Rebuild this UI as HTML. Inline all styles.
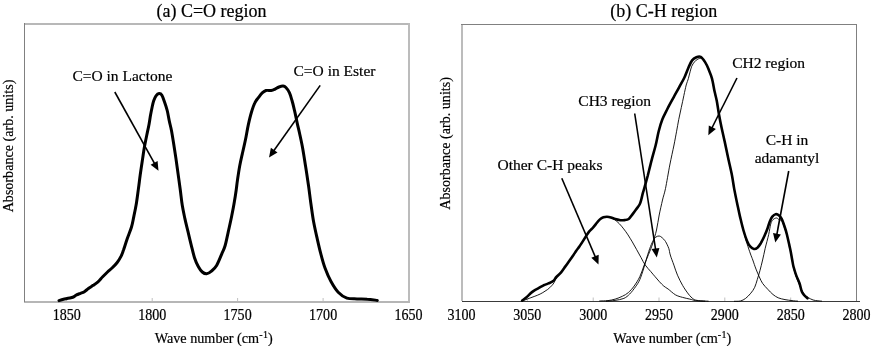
<!DOCTYPE html>
<html><head><meta charset="utf-8"><style>
html,body{margin:0;padding:0;background:#fff;width:871px;height:346px;overflow:hidden}
svg{display:block}
</style></head><body>
<svg width="871" height="346" viewBox="0 0 871 346">
<style>
text{font-family:"Liberation Serif","Times New Roman",serif;fill:#000;stroke:#000;stroke-width:0.2px}
.t{font-size:14px}
.n{font-size:14.5px}
.a{font-size:15.5px}
.h{font-size:18px}
</style>
<rect width="871" height="346" fill="#fff"/>
<!-- left chart frame -->
<rect x="24" y="23" width="386" height="2" fill="#b8b8b8"/>
<rect x="408" y="23" width="2" height="280" fill="#bcbcbc"/>
<rect x="24" y="301" width="386" height="2" fill="#b6b6b6"/>
<rect x="24" y="23" width="1" height="279" fill="#808080"/>
<rect x="66.2" y="298" width="1" height="3" fill="#c0c0c0"/><rect x="151.7" y="298" width="1" height="3" fill="#c0c0c0"/><rect x="237.1" y="298" width="1" height="3" fill="#c0c0c0"/><rect x="322.6" y="298" width="1" height="3" fill="#c0c0c0"/>
<!-- right chart frame -->
<rect x="461" y="24" width="2" height="277" fill="#bcbcbc"/>
<rect x="461" y="24" width="396" height="1" fill="#808080"/>
<rect x="856" y="24" width="1" height="277" fill="#808080"/>
<rect x="462" y="301" width="398" height="1" fill="#3a3a3a"/>
<rect x="526.8" y="297.5" width="1" height="3.5" fill="#c0c0c0"/><rect x="592.7" y="297.5" width="1" height="3.5" fill="#c0c0c0"/><rect x="658.5" y="297.5" width="1" height="3.5" fill="#c0c0c0"/><rect x="724.3" y="297.5" width="1" height="3.5" fill="#c0c0c0"/><rect x="790.2" y="297.5" width="1" height="3.5" fill="#c0c0c0"/>
<!-- curves -->
<path d="M59.0 300.6 C59.9 300.3 62.5 299.5 64.5 299.0 C66.5 298.5 69.3 298.1 70.9 297.7 C72.5 297.3 73.2 297.1 74.1 296.6 C75.0 296.1 75.4 295.4 76.5 294.9 C77.6 294.3 79.2 293.8 80.5 293.3 C81.8 292.8 83.1 292.5 84.4 291.7 C85.7 290.9 86.9 289.6 88.4 288.5 C89.9 287.4 91.6 286.4 93.2 285.3 C94.8 284.2 96.4 283.2 98.0 281.8 C99.6 280.4 101.1 278.3 102.7 276.7 C104.3 275.1 105.9 273.5 107.5 272.0 C109.1 270.5 110.7 269.4 112.3 267.8 C113.9 266.2 115.5 264.6 117.0 262.7 C118.5 260.8 119.9 258.5 121.0 256.4 C122.1 254.2 122.5 252.8 123.6 249.8 C124.6 246.8 126.0 242.4 127.3 238.6 C128.6 234.8 130.4 230.7 131.5 227.0 C132.6 223.3 133.0 220.2 133.8 216.6 C134.6 212.9 135.3 209.7 136.1 205.1 C136.9 200.5 137.7 193.9 138.4 188.9 C139.1 183.9 139.5 180.1 140.2 175.0 C140.9 169.9 142.0 162.8 142.7 158.1 C143.4 153.4 143.8 150.4 144.5 146.6 C145.2 142.8 146.0 138.8 146.8 135.0 C147.6 131.2 148.5 127.3 149.1 123.9 C149.7 120.5 150.1 117.4 150.6 114.7 C151.1 112.0 151.5 110.0 152.0 107.7 C152.5 105.4 153.0 102.8 153.7 100.8 C154.4 98.8 155.1 97.0 156.0 95.8 C156.9 94.6 158.1 93.7 159.1 93.6 C160.1 93.5 161.0 93.8 161.9 95.3 C162.8 96.8 163.8 100.0 164.7 102.5 C165.6 105.0 166.4 107.4 167.2 110.5 C168.0 113.6 168.6 117.5 169.3 121.0 C170.0 124.5 170.7 126.4 171.6 131.2 C172.5 136.0 173.6 143.5 174.6 149.7 C175.6 155.9 176.4 161.5 177.3 168.2 C178.2 174.9 179.5 183.8 180.3 190.0 C181.1 196.2 181.5 200.8 182.3 205.6 C183.1 210.4 184.0 214.3 184.9 218.6 C185.8 222.9 187.0 227.3 188.0 231.6 C189.0 235.9 190.0 240.2 191.1 244.6 C192.2 248.9 193.3 254.0 194.5 257.7 C195.7 261.4 197.1 264.4 198.4 266.8 C199.7 269.2 200.9 270.8 202.3 272.0 C203.7 273.2 205.2 273.9 206.7 273.8 C208.2 273.7 209.8 272.6 211.4 271.2 C213.1 269.8 214.9 268.4 216.6 265.5 C218.3 262.6 220.4 257.1 221.8 253.8 C223.2 250.6 223.9 249.7 225.0 246.0 C226.1 242.3 227.2 236.6 228.3 231.6 C229.4 226.6 230.7 221.0 231.7 216.0 C232.7 211.0 233.7 205.8 234.4 201.5 C235.2 197.2 235.7 193.6 236.2 190.0 C236.7 186.4 236.9 183.9 237.5 179.9 C238.1 175.9 238.9 170.3 239.7 166.0 C240.5 161.7 241.3 158.3 242.3 153.9 C243.3 149.5 244.5 144.3 245.5 139.5 C246.5 134.7 247.3 129.3 248.3 124.8 C249.3 120.3 250.2 116.3 251.3 112.7 C252.4 109.1 253.5 105.6 254.7 103.1 C255.8 100.6 256.9 99.6 258.2 97.9 C259.5 96.2 261.2 93.9 262.5 92.7 C263.8 91.5 264.6 90.9 266.0 90.5 C267.4 90.1 269.8 90.7 271.2 90.5 C272.6 90.3 273.4 89.9 274.7 89.3 C276.0 88.7 277.6 87.5 279.0 87.0 C280.4 86.5 281.9 86.0 283.0 86.1 C284.1 86.2 284.8 86.4 285.9 87.5 C287.0 88.6 288.4 90.5 289.4 92.7 C290.4 94.9 291.1 97.5 292.0 100.5 C292.9 103.5 293.7 107.1 294.6 110.9 C295.5 114.7 296.4 119.4 297.2 123.1 C298.0 126.8 298.6 128.8 299.5 133.0 C300.4 137.2 301.7 142.8 302.7 148.5 C303.7 154.2 304.7 160.8 305.7 167.0 C306.7 173.2 307.6 179.5 308.5 185.5 C309.4 191.5 309.9 196.9 310.8 203.0 C311.7 209.1 312.6 216.4 313.7 222.3 C314.8 228.2 315.9 232.9 317.1 238.2 C318.3 243.5 319.5 249.0 320.9 254.1 C322.2 259.2 323.5 264.0 325.2 268.6 C326.9 273.2 328.8 277.7 331.0 281.6 C333.2 285.6 335.6 289.6 338.2 292.3 C340.8 295.1 343.8 297.0 346.9 298.1 C350.0 299.2 353.6 298.7 357.0 298.9 C360.4 299.1 363.7 298.9 367.1 299.2 C370.5 299.4 375.6 300.2 377.3 300.4" fill="none" stroke="#000" stroke-width="3" stroke-linejoin="round" stroke-linecap="round"/>
<g fill="none" stroke="#000" stroke-width="0.9">
<path d="M522.2 300.6 C522.6 300.5 523.0 300.6 524.5 300.1 C526.0 299.6 528.8 298.5 530.9 297.7 C533.0 296.9 535.3 296.1 537.3 295.3 C539.3 294.5 541.1 293.6 542.8 292.6 C544.5 291.6 546.1 290.6 547.6 289.5 C549.1 288.4 550.5 287.0 551.6 285.8 C552.7 284.6 553.4 283.8 554.2 282.4 C555.0 281.0 555.5 279.1 556.6 277.5 C557.8 275.9 559.6 274.3 561.1 272.5 C562.6 270.7 564.2 268.2 565.4 266.6 C566.6 265.0 567.1 264.3 568.2 262.7 C569.3 261.1 570.8 259.1 572.1 257.2 C573.4 255.3 574.9 252.9 576.1 251.2 C577.3 249.4 578.3 248.3 579.4 246.7 C580.5 245.1 581.4 243.7 582.6 241.8 C583.8 240.0 585.4 237.3 586.5 235.6 C587.6 233.8 588.4 232.6 589.5 231.3 C590.6 230.0 591.8 229.1 593.0 227.8 C594.2 226.5 595.4 224.9 596.5 223.5 C597.6 222.1 598.8 220.6 599.9 219.6 C601.0 218.6 602.2 217.9 603.4 217.5 C604.6 217.1 605.6 217.0 606.9 217.0 C608.1 217.0 609.6 217.3 610.9 217.7 C612.2 218.1 613.2 218.6 614.6 219.6 C616.0 220.6 617.8 222.1 619.3 223.7 C620.8 225.2 622.2 227.0 623.7 228.9 C625.2 230.8 626.6 232.7 628.0 234.9 C629.4 237.1 630.8 239.4 632.3 241.9 C633.8 244.4 635.2 247.1 636.7 249.7 C638.2 252.3 639.6 254.9 641.0 257.5 C642.4 260.1 643.7 262.8 645.3 265.1 C646.9 267.5 649.2 269.7 650.8 271.6 C652.4 273.5 653.6 275.0 655.1 276.7 C656.6 278.4 658.0 280.2 659.5 281.8 C661.0 283.4 662.4 284.9 663.8 286.1 C665.2 287.3 666.2 287.6 668.1 289.0 C670.0 290.4 673.0 293.4 675.4 294.8 C677.8 296.2 680.2 296.7 682.6 297.4 C685.0 298.1 687.6 298.6 689.8 299.1 C692.0 299.6 693.1 300.2 695.6 300.6 C698.1 301.0 703.4 301.1 705.0 301.2"/>
<path d="M606.0 301.2 C607.5 301.1 612.0 300.9 615.0 300.4 C618.0 299.9 621.4 299.5 623.9 298.4 C626.4 297.3 627.8 295.9 629.7 294.0 C631.6 292.1 633.8 289.2 635.5 286.8 C637.2 284.4 638.5 282.6 639.8 279.6 C641.1 276.6 642.3 272.8 643.5 269.0 C644.7 265.2 645.8 260.8 647.0 257.0 C648.2 253.2 649.4 249.3 650.5 246.5 C651.6 243.7 652.6 241.6 653.5 240.0 C654.4 238.4 655.0 237.7 656.0 237.0 C657.0 236.3 658.2 235.9 659.2 236.0 C660.2 236.1 661.0 236.7 662.0 237.6 C663.0 238.5 664.4 239.7 665.5 241.5 C666.6 243.3 668.0 246.2 668.8 248.5 C669.6 250.8 669.4 252.2 670.3 255.0 C671.1 257.8 672.7 261.7 673.9 265.1 C675.1 268.5 676.0 271.8 677.5 275.2 C679.0 278.6 680.8 282.3 682.6 285.4 C684.4 288.5 686.6 291.7 688.4 294.0 C690.2 296.3 691.8 298.0 693.5 299.1 C695.2 300.2 696.0 300.2 698.5 300.6 C701.0 301.0 706.9 301.1 708.6 301.2"/>
<path d="M599.3 301.0 C600.8 300.9 605.4 300.9 608.0 300.6 C610.6 300.3 612.8 299.8 615.2 299.1 C617.6 298.4 620.3 297.3 622.5 296.2 C624.7 295.1 626.4 294.3 628.3 292.6 C630.2 290.9 632.2 288.8 634.1 286.1 C636.0 283.5 638.1 280.2 639.8 276.7 C641.5 273.2 642.8 268.8 644.2 265.1 C645.7 261.4 647.1 258.0 648.5 254.5 C649.9 251.0 651.2 248.1 652.5 244.0 C653.8 239.9 655.4 234.8 656.5 230.0 C657.6 225.2 658.2 220.0 659.2 215.0 C660.2 210.0 661.5 204.4 662.5 200.0 C663.5 195.6 664.3 194.3 665.5 188.5 C666.7 182.7 668.4 172.2 669.8 165.0 C671.2 157.8 672.9 150.5 674.0 145.0 C675.1 139.5 675.7 136.0 676.5 131.8 C677.3 127.6 677.9 123.8 678.7 119.7 C679.5 115.7 680.4 111.5 681.3 107.5 C682.2 103.5 683.1 99.2 683.9 95.4 C684.7 91.7 685.5 87.8 686.2 85.0 C687.0 82.2 687.8 80.6 688.4 78.4 C689.0 76.2 689.5 73.8 690.1 71.8 C690.7 69.8 691.0 68.0 691.7 66.3 C692.4 64.6 693.5 63.1 694.5 61.9 C695.5 60.7 696.8 59.5 698.0 59.0 C699.2 58.5 700.3 58.0 701.5 58.6 C702.7 59.2 703.9 60.8 705.1 62.6 C706.3 64.4 707.4 66.8 708.5 69.6 C709.6 72.3 711.0 75.3 712.0 79.1 C713.0 82.8 713.8 88.4 714.6 92.1 C715.4 95.8 716.1 97.8 716.8 101.5 C717.5 105.2 718.1 110.0 718.9 114.4 C719.7 118.9 720.6 123.6 721.6 128.2 C722.6 132.8 723.6 137.1 724.7 142.1 C725.8 147.1 726.9 152.7 728.1 158.3 C729.3 163.9 730.9 170.3 731.9 175.5 C732.9 180.7 733.4 184.8 734.2 189.4 C735.1 194.0 736.0 198.6 737.0 203.2 C738.0 207.8 738.9 212.5 740.0 217.1 C741.1 221.7 742.3 226.6 743.5 231.0 C744.7 235.4 745.8 239.7 747.0 243.5 C748.2 247.3 749.5 251.2 750.5 254.0 C751.5 256.8 751.9 257.5 752.8 260.0 C753.7 262.5 754.9 266.3 756.0 269.1 C757.1 271.9 758.2 274.5 759.3 276.9 C760.4 279.3 761.2 281.3 762.6 283.4 C764.0 285.5 766.1 287.4 767.8 289.3 C769.5 291.2 771.3 293.1 773.0 294.5 C774.7 295.9 776.2 296.9 778.2 297.8 C780.2 298.7 782.7 299.1 785.0 299.6 C787.3 300.1 789.8 300.3 792.0 300.6 C794.2 300.9 797.0 301.1 798.0 301.2"/>
<path d="M734.0 301.3 C735.1 301.2 738.5 301.5 740.4 301.0 C742.3 300.5 743.9 299.7 745.6 298.4 C747.3 297.1 749.3 295.0 750.8 293.2 C752.3 291.4 753.6 289.6 754.7 287.3 C755.8 285.0 756.4 282.3 757.3 279.5 C758.2 276.7 759.1 273.6 760.0 270.4 C760.9 267.1 761.7 263.7 762.6 260.0 C763.5 256.3 764.2 252.6 765.2 248.3 C766.2 244.1 767.8 238.5 768.7 234.5 C769.6 230.5 770.0 226.6 770.7 224.1 C771.4 221.6 772.0 220.7 773.0 219.7 C774.0 218.7 775.5 218.0 776.5 218.0 C777.5 218.0 778.2 219.2 779.1 219.7 C780.0 220.2 781.0 219.6 781.9 221.0 C782.8 222.4 783.7 225.7 784.5 228.0 C785.3 230.3 786.1 232.1 786.9 235.0 C787.7 237.9 788.6 242.3 789.3 245.2 C789.9 248.1 790.3 249.9 790.8 252.3 C791.3 254.7 791.6 257.1 792.1 259.8 C792.6 262.5 792.9 265.4 793.6 268.3 C794.3 271.2 795.4 274.5 796.4 277.3 C797.4 280.1 798.6 282.8 799.6 285.2 C800.6 287.6 801.5 289.8 802.5 291.5 C803.5 293.2 804.5 294.5 805.5 295.5 C806.5 296.5 807.0 296.9 808.3 297.6 C809.6 298.4 811.5 299.5 813.1 300.0 C814.7 300.5 816.4 300.6 817.9 300.8 C819.4 301.0 821.3 301.1 822.0 301.2"/>
</g>
<path d="M522.2 300.6 C523.0 300.0 525.5 298.2 526.9 296.9 C528.3 295.6 529.7 294.1 530.9 293.0 C532.1 291.9 532.8 291.5 534.1 290.6 C535.4 289.8 537.3 288.8 538.9 287.9 C540.5 287.0 542.0 286.1 543.6 285.3 C545.2 284.6 546.8 284.1 548.4 283.4 C550.0 282.7 551.9 282.1 553.2 281.0 C554.5 279.9 555.1 278.4 556.4 277.0 C557.7 275.6 559.6 274.1 561.1 272.3 C562.6 270.5 564.2 268.0 565.4 266.4 C566.6 264.8 567.1 264.1 568.2 262.5 C569.3 260.9 570.8 258.9 572.1 257.0 C573.4 255.1 574.9 252.8 576.1 251.0 C577.3 249.2 578.3 248.1 579.4 246.5 C580.5 244.9 581.4 243.4 582.6 241.6 C583.8 239.8 585.4 237.2 586.5 235.4 C587.6 233.7 588.4 232.4 589.5 231.1 C590.6 229.8 591.8 228.9 593.0 227.6 C594.2 226.3 595.4 224.7 596.5 223.3 C597.6 221.9 598.8 220.4 599.9 219.4 C601.0 218.4 602.2 217.7 603.4 217.3 C604.6 216.9 605.6 216.8 606.9 216.8 C608.1 216.8 609.5 217.0 610.9 217.4 C612.3 217.8 613.7 218.6 615.3 219.1 C616.9 219.6 619.0 220.0 620.5 220.2 C622.0 220.4 623.0 220.3 624.4 220.1 C625.8 219.9 627.4 219.9 628.7 219.0 C630.0 218.1 631.1 216.2 632.3 214.6 C633.5 213.0 634.8 211.3 636.0 209.6 C637.2 207.9 638.7 206.2 639.6 204.5 C640.5 202.8 640.8 201.4 641.3 199.5 C641.8 197.6 642.3 195.1 642.9 192.9 C643.5 190.7 644.0 189.3 644.8 186.4 C645.6 183.5 646.6 179.9 647.8 175.5 C648.9 171.1 650.4 164.8 651.7 159.8 C653.0 154.8 654.4 150.3 655.6 145.5 C656.8 140.7 657.6 135.5 658.7 131.2 C659.8 126.9 660.8 123.3 662.3 119.5 C663.8 115.7 665.7 112.3 667.6 108.5 C669.5 104.7 672.0 100.3 673.9 96.8 C675.8 93.3 677.4 90.5 679.1 87.3 C680.8 84.1 682.7 81.0 684.3 77.7 C685.9 74.4 687.3 70.2 688.6 67.3 C689.9 64.4 690.8 62.1 692.1 60.4 C693.4 58.7 695.0 57.9 696.4 57.3 C697.8 56.7 699.2 56.1 700.7 56.9 C702.2 57.7 703.8 60.1 705.1 62.1 C706.4 64.1 707.4 66.3 708.5 69.1 C709.6 71.8 711.0 74.8 712.0 78.6 C713.0 82.3 713.8 87.9 714.6 91.6 C715.4 95.3 716.1 97.3 716.8 101.0 C717.5 104.7 718.1 109.5 718.9 113.9 C719.7 118.4 720.6 123.1 721.6 127.7 C722.6 132.3 723.6 136.6 724.7 141.6 C725.8 146.6 726.9 152.2 728.1 157.8 C729.3 163.4 730.9 169.8 731.9 175.0 C732.9 180.2 733.4 184.3 734.2 188.9 C735.1 193.5 736.0 198.1 737.0 202.7 C738.0 207.3 738.9 212.0 740.0 216.6 C741.1 221.2 742.3 226.4 743.5 230.5 C744.7 234.6 745.9 238.2 747.0 240.9 C748.1 243.6 749.2 245.3 750.4 246.7 C751.5 248.0 752.7 248.8 753.9 249.0 C755.1 249.2 756.2 248.8 757.4 247.8 C758.5 246.8 759.6 245.1 760.8 243.2 C761.9 241.3 763.2 238.8 764.3 236.3 C765.4 233.8 766.7 230.7 767.6 228.2 C768.5 225.7 769.0 223.4 769.8 221.5 C770.6 219.6 771.3 217.8 772.3 216.6 C773.3 215.4 774.5 214.4 775.6 214.2 C776.7 214.0 778.1 214.6 779.1 215.4 C780.1 216.2 780.8 217.2 781.7 218.9 C782.6 220.6 783.4 223.2 784.3 225.8 C785.2 228.4 786.1 231.3 786.9 234.5 C787.7 237.7 788.6 242.0 789.3 244.9 C789.9 247.8 790.3 249.4 790.8 252.0 C791.3 254.6 791.8 258.0 792.3 260.5 C792.8 263.0 792.9 264.5 793.6 267.0 C794.3 269.5 795.3 272.9 796.3 275.6 C797.3 278.3 798.6 280.7 799.5 283.3 C800.4 285.9 801.0 289.5 801.8 291.5 C802.6 293.5 803.5 294.4 804.5 295.5 C805.5 296.6 807.0 297.8 807.5 298.3" fill="none" stroke="#000" stroke-width="2.6" stroke-linejoin="round" stroke-linecap="round"/>
<!-- arrows -->
<line x1="114.8" y1="92.0" x2="154.6" y2="163.7" stroke="#000" stroke-width="1.60"/><polygon points="158.5,170.7 150.6,164.8 157.6,160.9" fill="#000"/>
<line x1="320.2" y1="85.4" x2="273.6" y2="151.0" stroke="#000" stroke-width="1.60"/><polygon points="269.0,157.5 270.9,147.8 277.5,152.5" fill="#000"/>
<line x1="561.8" y1="178.3" x2="595.4" y2="257.1" stroke="#000" stroke-width="1.60"/><polygon points="598.5,264.5 591.3,257.8 598.7,254.7" fill="#000"/>
<line x1="634.7" y1="113.5" x2="655.6" y2="249.5" stroke="#000" stroke-width="1.60"/><polygon points="656.8,257.4 651.5,249.1 659.4,247.9" fill="#000"/>
<line x1="737.0" y1="78.0" x2="711.9" y2="128.0" stroke="#000" stroke-width="1.60"/><polygon points="708.3,135.2 708.8,125.4 715.9,128.9" fill="#000"/>
<line x1="788.7" y1="171.0" x2="776.8" y2="234.6" stroke="#000" stroke-width="1.60"/><polygon points="775.3,242.5 773.0,232.9 780.9,234.4" fill="#000"/>
<!-- titles -->
<text x="211.5" y="16.7" text-anchor="middle" class="h">(a) C=O region</text>
<text x="663.7" y="16.7" text-anchor="middle" class="h">(b) C-H region</text>
<!-- annotations -->
<text x="122.4" y="81" text-anchor="middle" class="a">C=O in Lactone</text>
<text x="334.5" y="75.9" text-anchor="middle" class="a">C=O in Ester</text>
<text x="550" y="169.7" text-anchor="middle" class="a">Other C-H peaks</text>
<text x="614.7" y="106.2" text-anchor="middle" class="a">CH3 region</text>
<text x="768.6" y="68.4" text-anchor="middle" class="a">CH2 region</text>
<text x="787" y="145.1" text-anchor="middle" class="a">C-H in</text>
<text x="787" y="163.3" text-anchor="middle" class="a">adamantyl</text>
<!-- axis labels -->
<text transform="translate(66.7,319.6) scale(0.97,1.08)" text-anchor="middle" class="n">1850</text><text transform="translate(152.2,319.6) scale(0.97,1.08)" text-anchor="middle" class="n">1800</text><text transform="translate(237.6,319.6) scale(0.97,1.08)" text-anchor="middle" class="n">1750</text><text transform="translate(323.1,319.6) scale(0.97,1.08)" text-anchor="middle" class="n">1700</text><text transform="translate(408.5,319.6) scale(0.97,1.08)" text-anchor="middle" class="n">1650</text>
<text transform="translate(461.5,319.6) scale(0.97,1.08)" text-anchor="middle" class="n">3100</text><text transform="translate(527.3,319.6) scale(0.97,1.08)" text-anchor="middle" class="n">3050</text><text transform="translate(593.2,319.6) scale(0.97,1.08)" text-anchor="middle" class="n">3000</text><text transform="translate(659.0,319.6) scale(0.97,1.08)" text-anchor="middle" class="n">2950</text><text transform="translate(724.8,319.6) scale(0.97,1.08)" text-anchor="middle" class="n">2900</text><text transform="translate(790.7,319.6) scale(0.97,1.08)" text-anchor="middle" class="n">2850</text><text transform="translate(856.5,319.6) scale(0.97,1.08)" text-anchor="middle" class="n">2800</text>
<text x="213.7" y="342.6" text-anchor="middle" class="t" style="font-size:14.2px">Wave number (cm<tspan dy="-5" font-size="10px">-</tspan><tspan dx="0.5" font-size="10px">1</tspan><tspan dy="5">)</tspan></text>
<text x="672.3" y="342.6" text-anchor="middle" class="t" style="font-size:14.2px">Wave number (cm<tspan dy="-5" font-size="10px">-</tspan><tspan dx="0.5" font-size="10px">1</tspan><tspan dy="5">)</tspan></text>
<text transform="translate(12.5,146) rotate(-90)" text-anchor="middle" class="t" style="font-size:14.1px">Absorbance (arb. units)</text>
<text transform="translate(449.6,143.4) rotate(-90)" text-anchor="middle" class="t" style="font-size:14.1px">Absorbance (arb. units)</text>
</svg>
</body></html>
